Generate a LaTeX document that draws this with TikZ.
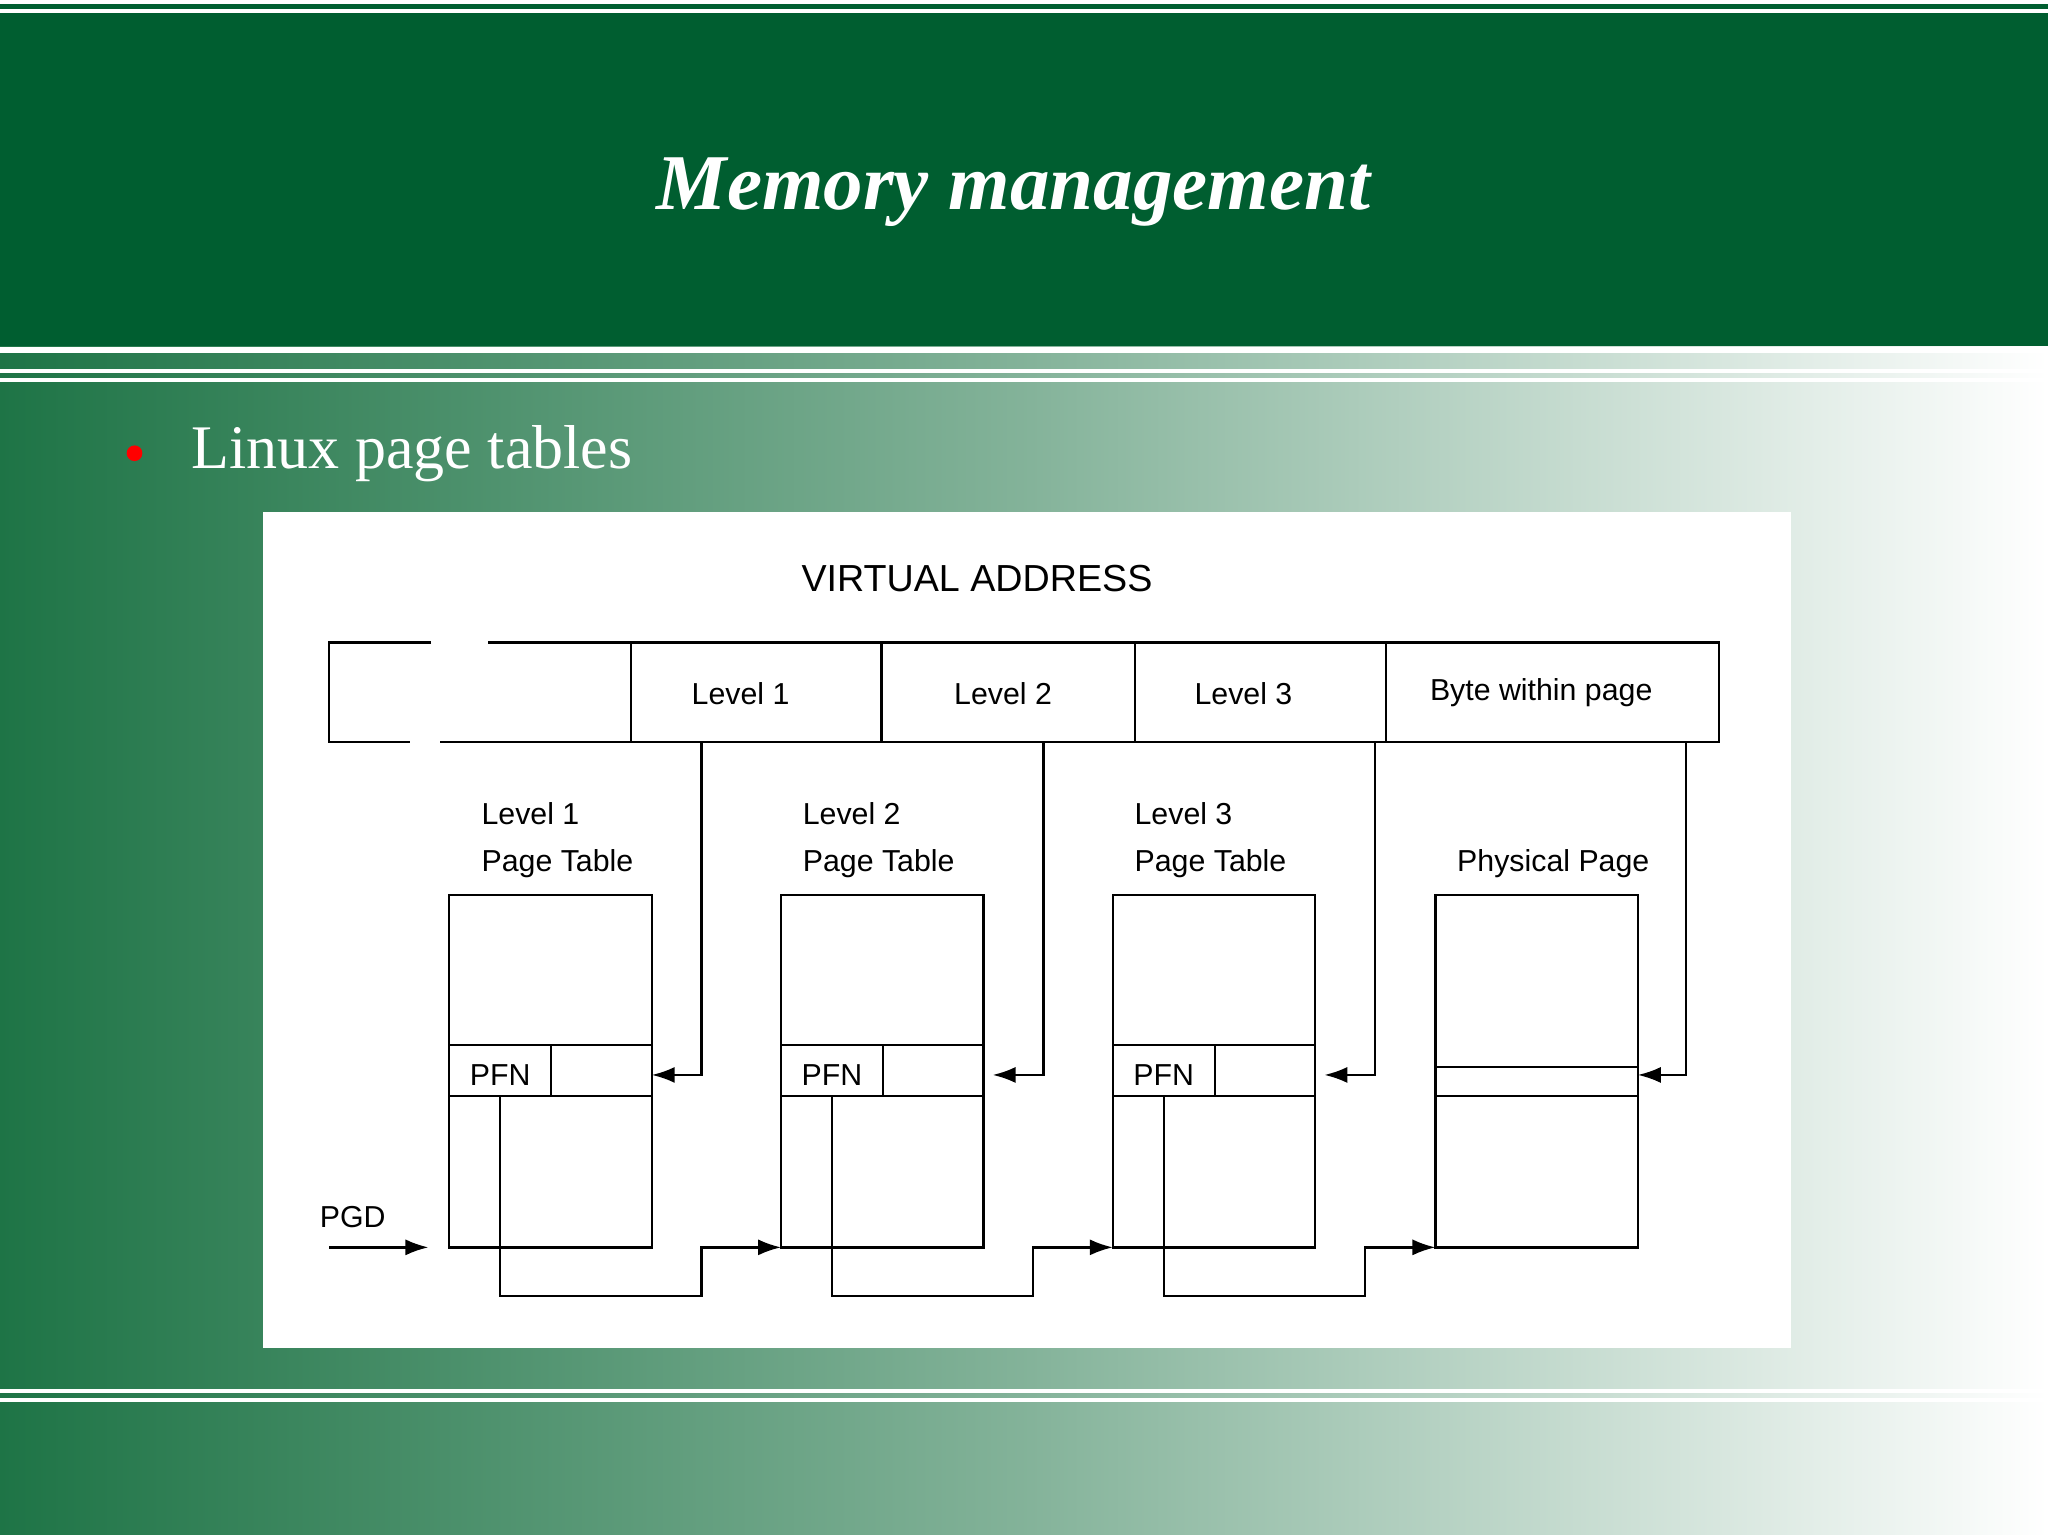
\documentclass[tikz,border=0pt]{standalone}
\usepackage{fontspec}
\setmainfont{Liberation Serif}
\newfontfamily\dsans{Liberation Sans}
\usetikzlibrary{arrows.meta}
\definecolor{band}{HTML}{005E30}
\definecolor{bgg}{HTML}{1E7446}
\begin{document}
\begin{tikzpicture}[x=0.01cm,y=-0.01cm,
  ln/.style={line width=0.5pt,black},
  ar/.style={ln,-{Latex[length=5pt,width=3.5pt]}},
  lbl/.style={font=\dsans\fontsize{6.6}{8}\selectfont,inner sep=0pt},
  lbll/.style={lbl,anchor=west}]
\useasboundingbox (0,0) rectangle (1568,1175);
\shade[left color=bgg, right color=white, middle color=bgg!55!white] (0,0) rectangle (1568,1175);
\fill[white] (0,0) rectangle (1568,10);
\draw[band,line width=1pt] (0,5) -- (1568,5);
\fill[band] (0,10) rectangle (1568,265);
\draw[white,line width=1.5pt] (0,268) -- (1568,268);
\draw[white,line width=0.8pt] (0,284) -- (1568,284);
\draw[white,line width=0.8pt] (0,291) -- (1568,291);
\draw[white,line width=0.8pt] (0,1065) -- (1568,1065);
\draw[white,line width=0.8pt] (0,1072) -- (1568,1072);
\node[white,font=\bfseries\itshape\fontsize{17.2}{20}\selectfont] (title) at (776,147) {Memory management};
\fill[red] (103,347) circle [radius=0.06cm];
\node[white,anchor=west,font=\fontsize{13.5}{16}\selectfont,inner sep=0pt] (bul) at (146,347) {Linux page tables};
\fill[white] (201,392) rectangle (1371,1032);
% address bar
\node[lbl,font=\dsans\fontsize{8.2}{10}\selectfont] (va) at (748,443) {VIRTUAL ADDRESS};
\draw[ln] (330,492) -- (252,492) -- (252,568) -- (314,568);
\draw[ln] (374,492) -- (1316,492) -- (1316,568) -- (337,568);
\foreach \x in {483,675,869,1061} \draw[ln] (\x,492) -- (\x,568);
\node[lbl] (l1) at (567,531) {Level 1};
\node[lbl] (l2) at (768,531) {Level 2};
\node[lbl] (l3) at (952,531) {Level 3};
\node[lbl,anchor=base] (bw) at (1180,536) {Byte within page};
% tables
\foreach \x/\n/\o in {344/1/24,598/2/16,852/3/16}{
  \draw[ln] (\x,685) rectangle ++(155,270);
  \draw[ln] (\x,800) -- ++(155,0) (\x,839) -- ++(155,0) (\x+78,800) -- (\x+78,839);
  \node[lbl] at (\x+39,823) {PFN};
  \node[lbll] at (\x+\o,623) {Level \n};
  \node[lbll] at (\x+\o,661) {Page Table};
}
\draw[ln] (1099,685) rectangle (1254,955);
\draw[ln] (1099,817) -- (1254,817) (1099,839) -- (1254,839);
\node[lbll] (pp) at (1115,661) {Physical Page};
% index arrows
\draw[ar] (537,568) -- (537,823) -- (499,823);
\draw[ar] (799,568) -- (799,823) -- (760,823);
\draw[ar] (1053,568) -- (1053,823) -- (1014,823);
\draw[ar] (1291,568) -- (1291,823) -- (1254,823);
% PGD
\node[lbl] (pgd) at (270,932) {PGD};
\draw[ar] (252,955) -- (328,955);
% PFN chains
\draw[ar] (383,839) -- (383,992) -- (537,992) -- (537,955) -- (598,955);
\draw[ar] (637,839) -- (637,992) -- (791,992) -- (791,955) -- (852,955);
\draw[ar] (891,839) -- (891,992) -- (1045,992) -- (1045,955) -- (1099,955);
\end{tikzpicture}
\end{document}
